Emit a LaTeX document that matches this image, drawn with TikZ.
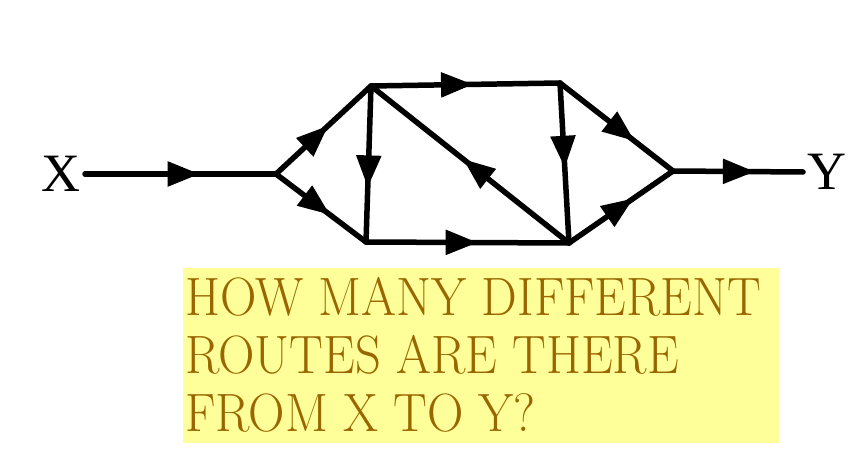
\documentclass[tikz,border=0pt]{standalone}
\usepackage{fontspec}
\newfontfamily\timesf{Liberation Serif}
\usetikzlibrary{decorations.markings,arrows.meta}
\definecolor{qbg}{HTML}{FFFF99}
\definecolor{qtxt}{HTML}{996600}
\tikzset{
  edge/.style={line width=5.5pt, line cap=round, postaction={decorate},
    decoration={markings, mark=at position #1 with {\arrow{Triangle[length=32pt,width=24pt]}}}},
  edge/.default=0.6,
  junction/.style={coordinate},
  lbl/.style={font=\timesf\fontsize{54}{54}\selectfont, inner sep=4pt},
  qline/.style={anchor=base west, inner sep=0pt, text=qtxt, font=\fontsize{54}{54}\selectfont},
  qbox/.style={fill=qbg, draw=none}
}
\begin{document}
\begin{tikzpicture}[x=1pt,y=-1pt]
\useasboundingbox (0,0) rectangle (858,465);
\path[qbox] (183,268) rectangle (779,443);
\node[junction] (A) at (276,174) {};
\node[junction] (B) at (371,86) {};
\node[junction] (C) at (366,242) {};
\node[junction] (D) at (560,83) {};
\node[junction] (E) at (569,243) {};
\node[junction] (F) at (673,171) {};
\node[lbl, anchor=east] (X) at (85,174) {X};
\node[lbl, anchor=west] (Y) at (803,172) {Y};
\draw[edge=0.6] (X.east) -- (A);
\draw[edge=0.55] (A) -- (B);
\draw[edge=0.6] (A) -- (C);
\draw[edge=0.65] (B) -- (C);
\draw[edge=0.54] (B) -- (D);
\draw[edge=0.55] (C) -- (E);
\draw[edge=0.535] (E) -- (B);
\draw[edge=0.53] (D) -- (E);
\draw[edge=0.66] (D) -- (F);
\draw[edge=0.62] (E) -- (F);
\draw[edge=0.63] (F) -- (Y.west);
\node[qline] (q1) at (185,315) {\scalebox{0.935}[1]{HOW MANY DIFFERENT}};
\node[qline] (q2) at (185,373) {\scalebox{0.935}[1]{ROUTES ARE THERE}};
\node[qline] (q3) at (185,431) {\scalebox{0.935}[1]{FROM X TO Y?}};
\end{tikzpicture}
\end{document}
